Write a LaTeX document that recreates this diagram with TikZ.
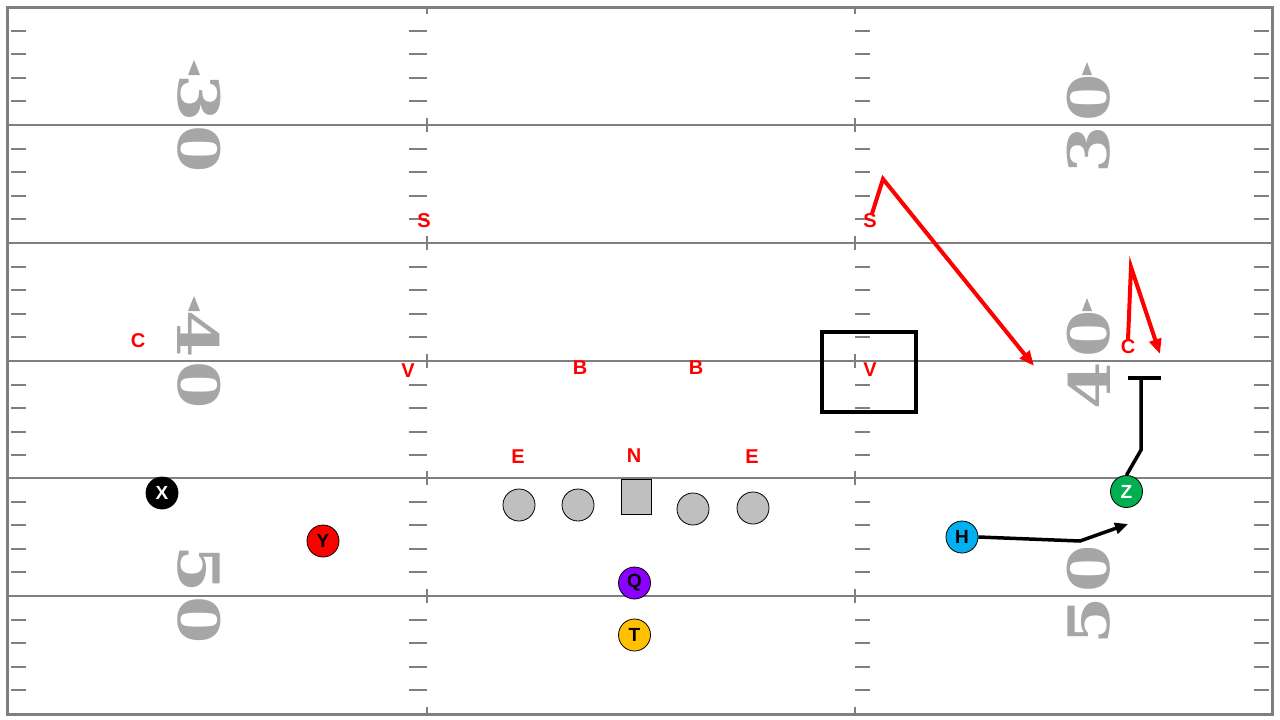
\documentclass[tikz,border=0pt]{standalone}
\usepackage{fontspec}
\setmainfont{Liberation Sans}
\newfontfamily\yardfont{DejaVu Serif}
\usetikzlibrary{arrows.meta}
\definecolor{linegrey}{HTML}{7F7F7F}
\definecolor{numgrey}{HTML}{A6A6A6}
\definecolor{linemangrey}{HTML}{BFBFBF}
\definecolor{qpurple}{HTML}{8B00FF}
\definecolor{tgold}{HTML}{FFC000}
\definecolor{hblue}{HTML}{00B0F0}
\definecolor{zgreen}{HTML}{00B050}
\definecolor{defred}{HTML}{FF0000}
\begin{document}
\begin{tikzpicture}[x=1pt,y=-1pt,
  yardline/.style={line width=2pt, draw=linegrey},
  hashmark/.style={line width=2pt, draw=linegrey},
  yardnum/.style={text=numgrey, font=\yardfont\bfseries\fontsize{68}{68}\selectfont, inner sep=0pt, xscale=0.84},
  numarrow/.style={fill=numgrey},
  player/.style={circle, draw=black, line width=0.8pt, minimum size=32pt, inner sep=0pt, font=\bfseries\fontsize{19}{19}\selectfont},
  lineman/.style={circle, draw=black, fill=linemangrey, line width=0.8pt, minimum size=32pt, inner sep=0pt},
  center/.style={rectangle, draw=black, fill=linemangrey, line width=0.8pt, minimum width=30pt, minimum height=35pt, inner sep=0pt},
  deflabel/.style={text=defred, font=\bfseries\fontsize{20}{20}\selectfont, inner sep=0pt},
  redroute/.style={draw=defred, line width=4pt, line join=miter, -{Triangle[length=15pt,width=12pt]}},
  blackroute/.style={draw=black, line width=3.5pt, line join=miter},
]
\useasboundingbox (0,0) rectangle (1280,720);
\fill[white] (0,0) rectangle (1280,720);

% yard lines
\foreach \yy in {125,243,361,478,596} \draw[yardline] (7,\yy) -- (1272,\yy);

% hash ticks
\foreach \s in {7,125,243,361,478,596} {
  \foreach \k in {1,2,3,4} {
    \draw[hashmark] (11,{\s+\k*23.6}) -- (26,{\s+\k*23.6});
    \draw[hashmark] (409,{\s+\k*23.6}) -- (427,{\s+\k*23.6});
    \draw[hashmark] (855,{\s+\k*23.6}) -- (870,{\s+\k*23.6});
    \draw[hashmark] (1254,{\s+\k*23.6}) -- (1269,{\s+\k*23.6});
  }
}
\foreach \xx in {427,855} {
  \foreach \yy in {125,243,361,478,596} \draw[hashmark] (\xx,\yy-7) -- (\xx,\yy+7);
  \draw[hashmark] (\xx,7) -- (\xx,14);
  \draw[hashmark] (\xx,707) -- (\xx,714);
}

% border
\draw[line width=3pt, draw=linegrey] (7,7) rectangle (1272,714);

% yard numbers, left side
\node[yardnum, rotate=-90] (l30a) at (199,98) {3};
\node[yardnum, rotate=-90] (l30b) at (199,149) {0};
\fill[numarrow] (188,75) -- (194,60) -- (200,75) -- cycle;
\node[yardnum, rotate=-90] (l40a) at (199,334) {4};
\node[yardnum, rotate=-90] (l40b) at (199,385) {0};
\fill[numarrow] (188,311) -- (194,296) -- (200,311) -- cycle;
\node[yardnum, rotate=-90] (l50a) at (199,569) {5};
\node[yardnum, rotate=-90] (l50b) at (199,620) {0};

% yard numbers, right side
\node[yardnum, rotate=90] (r30a) at (1089,98) {0};
\node[yardnum, rotate=90] (r30b) at (1089,150) {3};
\fill[numarrow] (1082,75) -- (1087,62) -- (1092,75) -- cycle;
\node[yardnum, rotate=90] (r40a) at (1089,334) {0};
\node[yardnum, rotate=90] (r40b) at (1089,386) {4};
\fill[numarrow] (1082,311) -- (1087,298) -- (1092,311) -- cycle;
\node[yardnum, rotate=90] (r50a) at (1089,569) {0};
\node[yardnum, rotate=90] (r50b) at (1089,621) {5};

% defenders
\node[deflabel] (S1) at (424,221) {S};
\node[deflabel] (S2) at (870,221) {S};
\node[deflabel] (C1) at (138,341) {C};
\node[deflabel] (C2) at (1128,347) {C};
\node[deflabel] (V1) at (408,371) {V};
\node[deflabel] (V2) at (870,370) {V};
\node[deflabel] (B1) at (580,368) {B};
\node[deflabel] (B2) at (696,368) {B};
\node[deflabel] (E1) at (518,457) {E};
\node[deflabel] (N) at (634,456) {N};
\node[deflabel] (E2) at (752,457) {E};

% box
\node[draw=black, line width=4pt, minimum width=94pt, minimum height=80pt, inner sep=0pt] (box) at (869,372) {};

% offensive line
\node[lineman] (LT) at (519,505) {};
\node[lineman] (LG) at (578,505) {};
\node[center] (OC) at (636,497) {};
\node[lineman] (RG) at (693,509) {};
\node[lineman] (RT) at (753,508) {};

% skill players
\node[player, fill=black, text=white] (X) at (162,493) {X};
\node[player, fill=defred, text=black] (Y) at (323,541) {Y};
\node[player, fill=qpurple, text=black] (Q) at (634.5,583) {Q};
\node[player, fill=tgold, text=black] (T) at (634.5,635) {T};
\node[player, fill=hblue, text=black] (H) at (962,537) {H};
\node[player, fill=zgreen, text=white] (Z) at (1126.5,491.5) {Z};

% routes
\coordinate (s2a) at (883,179);
\coordinate (s2b) at (1034,366);
\draw[redroute] ([xshift=2pt]S2.north) -- (s2a) -- (s2b);

\coordinate (c2a) at (1131,267);
\coordinate (c2b) at (1160,354);
\draw[redroute] (C2.north) -- (c2a) -- (c2b);

\coordinate (h1) at (1080,541);
\coordinate (h2) at (1128,524);
\draw[blackroute, -{Triangle[length=13pt,width=11pt]}] (H.east) -- (h1) -- (h2);

\coordinate (z1) at (1141,450);
\coordinate (z2) at (1141,378);
\coordinate (zl) at (1128,378);
\coordinate (zr) at (1161,378);
\draw[blackroute] (Z.north) -- (z1) -- (z2);
\draw[blackroute] (zl) -- (zr);
\end{tikzpicture}
\end{document}
